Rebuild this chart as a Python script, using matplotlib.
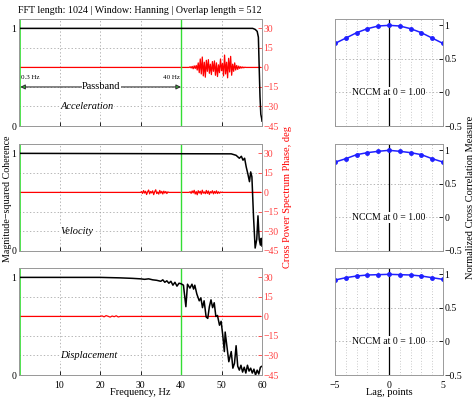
import numpy as np
import matplotlib
matplotlib.use("Agg")
import matplotlib.pyplot as plt

plt.rcParams['font.family'] = ['Liberation Serif', 'DejaVu Serif']
plt.rcParams['font.size'] = 7

# ---- coherence curves (frequency Hz, magnitude-squared coherence) ----
acc_f = [0, 57.7, 58.3, 58.8, 59.1, 59.3, 59.5, 59.7, 59.9, 60.0]
acc_c = [1.0, 1.0, 0.99, 0.97, 0.91, 0.6, 0.3, 0.12, 0.08, 0.05]

vel_f = [0, 52.4, 53.6, 54.4, 54.9, 55.3, 55.7, 56.1, 56.5, 56.9, 57.2, 57.5,
         57.9, 58.3, 58.7, 59.0, 59.3, 59.6, 59.8, 60.0]
vel_c = [1.0, 0.995, 0.98, 0.95, 0.97, 0.93, 0.95, 0.86, 0.79, 0.71, 0.81, 0.76,
         0.35, 0.03, 0.12, 0.36, 0.12, 0.06, 0.13, 0.05]

dis_f = [0, 20, 25, 28, 30, 31, 32, 33, 34, 35, 35.5, 36, 36.5, 37, 37.5, 38,
         38.5, 39, 39.5, 40.0, 40.6, 41.2, 41.6, 42.2, 42.7, 43.1, 43.4, 43.9,
         44.5, 44.9, 45.3, 45.7, 46.2, 46.6, 47.0, 47.4, 47.8, 48.2, 48.6, 49.0,
         49.5, 49.9, 50.3, 50.7, 50.9, 51.4, 51.8, 52.4, 52.8, 53.2, 53.6, 54.0,
         54.4, 54.8, 55.2, 55.6, 56.0, 56.4, 56.8, 57.2, 57.6, 58.0, 58.4, 58.8,
         59.2, 59.6, 60.0]
dis_c = [1.0, 1.0, 0.995, 0.99, 0.985, 0.98, 0.985, 0.975, 0.97, 0.96, 0.975,
         0.95, 0.965, 0.94, 0.96, 0.92, 0.95, 0.91, 0.94, 0.935, 0.92, 0.70, 0.93,
         0.89, 0.93, 0.88, 0.92, 0.83, 0.76, 0.79, 0.69, 0.76, 0.595, 0.58, 0.70,
         0.77, 0.69, 0.74, 0.60, 0.61, 0.51, 0.55, 0.41, 0.24, 0.44, 0.27, 0.136,
         0.24, 0.07, 0.12, 0.30, 0.09, 0.05, 0.10, 0.03, 0.08, 0.02, 0.10, 0.04,
         0.07, 0.02, 0.06, 0.0, 0.05, 0.01, 0.08, 0.09]

# ---- cross power spectrum phase (deg) ----
acc_pf = [0, 42.0, 42.25, 42.5, 42.75, 43.0, 43.25, 43.5, 43.75, 44.0, 44.25,
          44.5, 44.75, 45.0, 45.25, 45.5, 45.75, 46.0, 46.25, 46.5, 46.75, 47.0,
          47.25, 47.5, 47.75, 48.0, 48.25, 48.5, 48.75, 49.0, 49.25, 49.5, 49.75,
          50.0, 50.25, 50.5, 50.75, 51.0, 51.25, 51.5, 51.75, 52.0, 52.25, 52.5,
          52.75, 53.0, 53.25, 53.5, 53.75, 54.0, 54.25, 54.5, 54.75, 55.0, 55.25,
          55.5, 55.75, 56.0, 59.6]
acc_p = [0, 0, 0.5, -0.4, 0.8, -1.0, 1.2, -0.8, 1.5, -2.0, 3.5, -4.0, 6.5, -5.0,
         8.0, -6.5, 4.0, -7.5, 5.5, -3.0, 6.0, -4.5, 2.5, -5.5, 4.5, -3.0, 5.0,
         -6.0, 3.5, -7.0, 2.0, -4.0, 6.5, -2.5, 3.0, -6.5, 9.5, -5.0, 4.0, -8.0,
         7.0, -3.5, 8.5, -6.0, 2.5, -3.0, 3.5, -2.0, 1.5, -1.5, 1.0, -0.8, 0.6,
         -0.5, 0.4, -0.3, 0.2, 0, 0]

vel_pf = [0, 30.0, 30.25, 30.5, 30.75, 31.0, 31.25, 31.5, 31.75, 32.0, 32.25,
          32.5, 32.75, 33.0, 33.25, 33.5, 33.75, 34.0, 34.25, 34.5, 34.75, 35.0,
          35.25, 35.5, 35.75, 36.0, 36.25, 36.5, 36.75, 37.0,
          42.0, 42.25, 42.5, 42.75, 43.0, 43.25, 43.5, 43.75, 44.0, 44.25, 44.5,
          44.75, 45.0, 45.25, 45.5, 45.75, 46.0, 46.25, 46.5, 46.75, 47.0, 47.25,
          47.5, 47.75, 48.0, 48.25, 48.5, 48.75, 49.0, 49.25, 49.5, 49.75, 50.0,
          59.6]
vel_p = [0, 0, 0.6, -0.8, 1.4, -0.5, 0.9, -1.6, 0.4, 1.8, -1.1, 0.7, -0.4, 1.2,
         -1.7, 0.5, 2.0, -0.9, 0.3, -1.3, 1.5, -0.6, 0.8, -1.2, 1.0, -0.5, 0.7,
         -0.9, 0.4, 0,
         0, 0.5, -0.7, 1.1, -0.4, 1.6, -1.2, 0.6, -1.8, 1.3, -0.5, 0.9, -1.4, 1.7,
         -0.6, 0.4, -1.0, 1.5, -0.8, 1.1, -1.5, 0.6, -0.4, 1.3, -1.1, 0.8, -0.7,
         1.2, -0.9, 0.5, -0.6, 0.3, 0, 0]

dis_pf = [0, 20, 20.5, 21, 21.5, 22, 22.5, 23, 23.5, 24, 24.5, 25, 59.6]
dis_p = [0, 0, 0.4, -0.3, 0.6, 0.1, -0.5, 0.3, -0.2, 0.5, -0.4, 0, 0]

# ---- normalized cross correlation measure ----
lags = [-5, -4, -3, -2, -1, 0, 1, 2, 3, 4, 5]
ncc_acc = [0.73, 0.81, 0.89, 0.95, 0.99, 1.0, 0.99, 0.95, 0.89, 0.81, 0.73]
ncc_vel = [0.825, 0.875, 0.935, 0.965, 0.985, 1.0, 0.985, 0.965, 0.935, 0.875, 0.825]
ncc_dis = [0.915, 0.95, 0.975, 0.99, 0.995, 1.0, 0.995, 0.99, 0.975, 0.95, 0.925]

names = ["Acceleration", "Velocity", "Displacement"]
coh = [(acc_f, acc_c), (vel_f, vel_c), (dis_f, dis_c)]
phase = [(acc_pf, acc_p), (vel_pf, vel_p), (dis_pf, dis_p)]
nccs = [ncc_acc, ncc_vel, ncc_dis]

green = "#33dd33"
gridc = "#9a9a9a"

fig = plt.figure(figsize=(4.74, 3.97), dpi=100)
bottoms = [0.6826, 0.3678, 0.0554]
h = 0.2705

for i in range(3):
    ax = fig.add_axes([0.0401, bottoms[i], 0.5127, h])
    axr = ax.twinx()
    ax.set_zorder(axr.get_zorder() + 1)
    ax.patch.set_visible(False)

    ax.set_xlim(0, 60)
    ax.set_ylim(0, 1.1)
    axr.set_ylim(-45, 37.5)
    ax.set_yticks([0, 1])
    ax.set_xticks([10, 20, 30, 40, 50, 60])
    axr.set_yticks([-45, -30, -15, 0, 15, 30])
    axr.set_yticklabels(["\u221245", "\u221230", "\u221215", "0", "15", "30"])
    ax.tick_params(direction="in", length=3, width=0.6, pad=2, labelsize=7)
    ax.tick_params(axis="x", pad=4)
    axr.tick_params(direction="in", length=3, width=0.6, pad=1, labelsize=7,
                    colors="#ff4040")
    if i < 2:
        ax.set_xticklabels([])
    else:
        ax.set_xlabel("Frequency, Hz", labelpad=-1, fontsize=7.5)

    for s in ax.spines.values():
        s.set_color(gridc)
        s.set_linewidth(0.7)
    for s in axr.spines.values():
        s.set_color(gridc)
        s.set_linewidth(0.7)

    # grid: frequency lines and phase lines
    for x in [10, 20, 30, 50]:
        axr.axvline(x, color=gridc, ls=(0, (2, 3)), lw=0.5, zorder=0)
    for y in [-30, -15, 15]:
        axr.axhline(y, color=gridc, ls=(0, (2, 3)), lw=0.5, zorder=0)

    axr.plot(phase[i][0], phase[i][1], color="#ff0000", lw=0.9)
    ax.axvline(0.3, color=green, lw=1.2)
    ax.axvline(40, color=green, lw=1.0)
    ax.plot(coh[i][0], coh[i][1], color="black", lw=1.1)

    ax.text(10.2, 0.2, names[i], style="italic", fontsize=7.5,
            ha="left", va="center", bbox=dict(fc="white", ec="none", pad=0.5))

    if i == 0:
        ax.annotate("", xy=(0.3, 0.4), xytext=(40, 0.4),
                    arrowprops=dict(arrowstyle="<|-|>", color="#333333", lw=0.8,
                                    mutation_scale=7, shrinkA=0, shrinkB=0,
                                    fc=green))
        ax.text(20.3, 0.4, "Passband", fontsize=7.5, ha="center", va="center",
                bbox=dict(fc="white", ec="none", pad=0.3))
        ax.text(0.5, 0.5, "0.3 Hz", fontsize=5, ha="left", va="center")
        ax.text(39.6, 0.5, "40 Hz", fontsize=5, ha="right", va="center")
        ax.set_title("FFT length: 1024 | Window: Hanning | Overlap length = 512",
                     fontsize=7.2, loc="left", x=-0.005, pad=4)
    if i == 1:
        axr.set_ylabel("Cross Power Spectrum Phase, deg", color="#ff0000",
                       fontsize=7.5, labelpad=3)

    # ---- right: NCC ----
    bx = fig.add_axes([0.7068, bottoms[i], 0.2278, h])
    bx.set_xlim(-5, 5)
    bx.set_ylim(-0.5, 1.1)
    bx.set_xticks([-5, 0, 5])
    bx.set_xticks(range(-5, 6), minor=True)
    bx.set_yticks([-0.5, 0, 0.5, 1])
    bx.set_yticklabels(["\u22120.5", "0", "0.5", "1"])
    bx.yaxis.tick_right()
    bx.tick_params(direction="in", length=3, width=0.6, pad=1, labelsize=7)
    bx.tick_params(axis="x", pad=4)
    bx.tick_params(which="minor", length=0)
    for s in bx.spines.values():
        s.set_color(gridc)
        s.set_linewidth(0.7)
    bx.grid(True, which="minor", axis="x", color=gridc, ls=(0, (1, 3)), lw=0.5)
    for y in [0, 0.5]:
        bx.axhline(y, color=gridc, ls=(0, (2, 3)), lw=0.5, zorder=0)
    bx.axvline(0, color="black", lw=0.9)
    bx.plot(lags, nccs[i], color="#2020ff", lw=1.1, marker="o", ms=2.5)
    bx.text(0, 0, "NCCM at 0 = 1.00", fontsize=7, ha="center", va="center",
            bbox=dict(fc="white", ec="none", pad=0.5), zorder=5)
    if i < 2:
        bx.set_xticklabels([])
    else:
        bx.set_xticklabels(["\u22125", "0", "5"])
        bx.set_xlabel("Lag, points", labelpad=-1, fontsize=7.5)
    if i == 1:
        bx.yaxis.set_label_position("right")
        bx.set_ylabel("Normalized Cross Correlation Measure", fontsize=7.5,
                      labelpad=3)

fig.text(0.016, 0.5, "Magnitude\u2212squared Coherence", rotation=90,
         ha="center", va="center", fontsize=7.2)

fig.savefig("out.png", dpi=100)
